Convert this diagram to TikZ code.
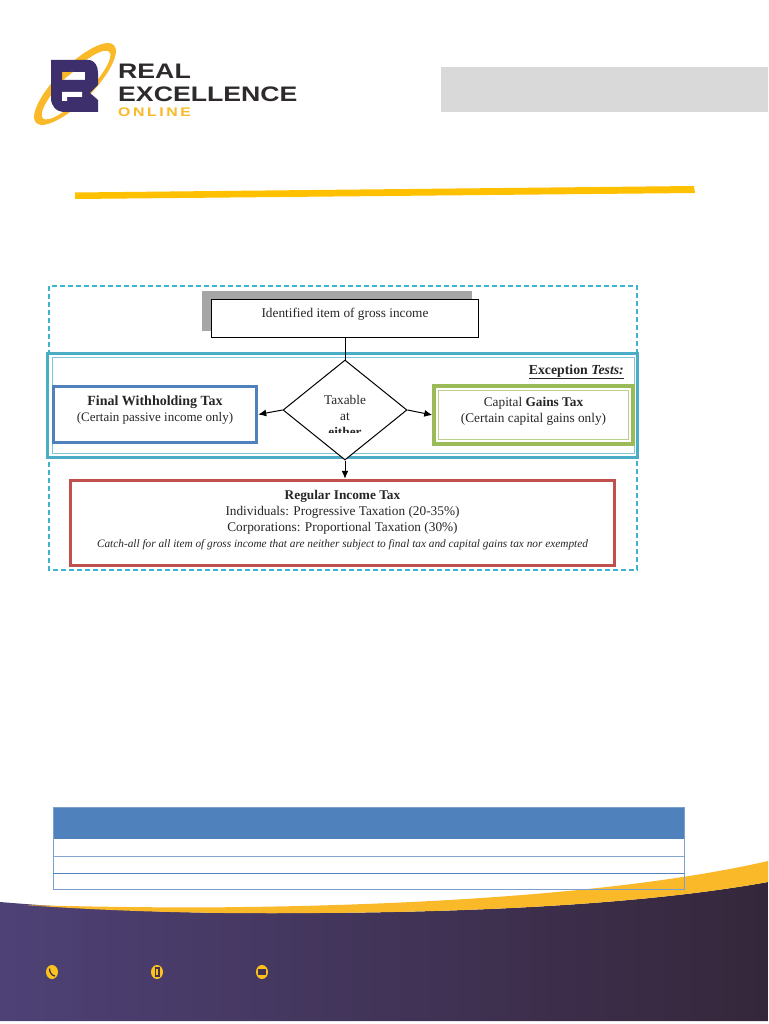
\documentclass[tikz,border=0pt]{standalone}
\usepackage{fontspec}
\setmainfont{Liberation Serif}
\newfontfamily\logofont[FakeStretch=1.27]{Liberation Sans}
\usetikzlibrary{shapes.geometric,arrows.meta}
\definecolor{ringyellow}{HTML}{F9B928}
\definecolor{ruleyellow}{HTML}{FFC000}
\definecolor{iconyellow}{HTML}{FBC31C}
\definecolor{linkblue}{HTML}{3FB4D2}
\definecolor{testblue}{HTML}{4BACC6}
\definecolor{finalblue}{HTML}{4F81BD}
\definecolor{gainsgreen}{HTML}{9BBB59}
\definecolor{regularred}{HTML}{C0504D}
\definecolor{logopurple}{HTML}{3D2F6B}
\definecolor{logodark}{HTML}{2E2A2C}
\definecolor{footleft}{HTML}{4E4176}
\definecolor{footmid}{HTML}{433351}
\definecolor{footright}{HTML}{35273A}
\tikzset{
	taxbox/.style={rectangle,inner sep=0,line width=3.5pt,fill=white},
	taxtext/.style={align=center,inner sep=0,font=\fontsize{13.3}{16}\selectfont,text=black!85},
	icondot/.style={ellipse,fill=iconyellow,minimum width=12,minimum height=14,inner sep=0},
	flowarrow/.style={-{Latex[length=8pt,width=7pt]},line width=1pt,black},
	logotext/.style={anchor=west,inner sep=0,logodark,font=\fontsize{21}{21}\logofont\bfseries}
}
\begin{document}
\begin{tikzpicture}[x=1pt,y=-1pt]
	\useasboundingbox (0,0) rectangle (768,1024);
	\fill[white] (0,0) rectangle (768,1024);

	\fill[ringyellow,even odd rule,rotate around={45:(75,84)}] (75,84) ellipse (55 and 18) (75,85.5) ellipse (47 and 12.5);
	\fill[logopurple,even odd rule] (51,60) -- (88,60) .. controls (95,60) and (98,66) .. (98,73) -- (98,85) -- (90,93) -- (98,100) -- (98,112) -- (65,112) .. controls (56,112) and (51,106) .. (51,98) -- cycle
		(62,72) -- (85,72) -- (85,80) -- (62,80) -- cycle;
	\fill[white] (62,92) -- (82,92) -- (82,97) -- (67,97) -- (67,101) -- (62,101) -- cycle;
	\fill[ringyellow] (62,80) -- (63,80) -- (73,72) -- (71,72) -- cycle;
	\node (real) at (118,71.5) [logotext] {REAL};
	\node (excellence) at (118,94) [logotext] {EXCELLENCE};
	\node (online) at (118,112.5) [anchor=west,inner sep=0,ringyellow,font=\fontsize{12.5}{13}\logofont\bfseries] {O\,\kern0.5pt N\,\kern0.5pt L\,\kern0.5pt I\,\kern0.5pt N\,\kern0.5pt E};

	\fill[black!15] (441,67) rectangle (768,112);
	\fill[ruleyellow] (75,192.5) -- (694,186) -- (695,193) -- (75,199) -- cycle;

	\draw[linkblue,line width=1.2pt,dash pattern=on 5pt off 3pt] (49,286) rectangle (637,570);
	\fill[black!35] (202,291) rectangle (472,331);

	\node (source) at (345,318) [rectangle,draw=black,fill=white,line width=1pt,minimum width=267,minimum height=38] {};
	\node (sourcetext) at (345,314) [taxtext] {Identified item of gross income};

	\draw[testblue,fill=white,line width=3pt] (47.5,353.5) rectangle (637.5,457);
	\draw[testblue!70,line width=1pt] (52,357.5) rectangle (634,453.5);
	\node (tests) at (624,372) [taxtext,anchor=east,font=\fontsize{13.8}{16}\selectfont] {\underline{\textbf{Exception \textit{Tests:}}}};

	\node (test) at (345,410) [diamond,aspect=1.24,draw=black,fill=white,line width=1pt,inner sep=0,minimum width=124,minimum height=100] {};
	\node (testtext) at (345,407.5) [taxtext] {Taxable\\at};
	\begin{scope}
		\clip (315,422) rectangle (375,432);
		\node (testcut) at (345,431.5) [taxtext] {\textbf{either}};
	\end{scope}

	\node (final) at (155,414.5) [taxbox,draw=finalblue,minimum width=203,minimum height=56] {};
	\node (finaltext) at (155,410.5) [taxtext] {\fontsize{14}{16}\selectfont\textbf{Final Withholding Tax}\\\fontsize{13}{16}\selectfont(Certain passive income only)};

	\node (gains) at (533.5,415) [taxbox,draw=gainsgreen,minimum width=199,minimum height=58] {};
	\node (gainsinner) at (533.5,415) [rectangle,draw=gainsgreen!70,line width=1pt,minimum width=190,minimum height=49] {};
	\node (gainstext) at (533.5,411) [taxtext] {Capital \textbf{Gains Tax}\\(Certain capital gains only)};

	\node (regular) at (342.5,523) [taxbox,draw=regularred,minimum width=544,minimum height=85] {};
	\node (regulartext) at (342.5,520) [taxtext] {\textbf{Regular Income Tax}\\Individuals: Progressive Taxation (20-35\%)\\Corporations: Proportional Taxation (30\%)\\\fontsize{11.3}{16}\selectfont\textit{Catch-all for all item of gross income that are neither subject to final tax and capital gains tax nor exempted}};

	\draw[line width=1pt] (source.south) -- (test.north);
	\draw[flowarrow] (test.west) -- (final.east);
	\draw[flowarrow] (test.east) -- (gains.west);
	\draw[flowarrow] (test.south) -- (test.south |- regular.north);

	\shade[left color=footleft,middle color=footmid,right color=footright] (0,902) .. controls (120,912) and (220,914) .. (318,913) .. controls (470,912) and (640,905) .. (768,882) -- (768,1021) -- (0,1021) -- cycle;
	\fill[ringyellow] (25,905) .. controls (100,907) and (180,908) .. (245,907) .. controls (400,905) and (620,895) .. (768,861) -- (768,882) .. controls (640,905) and (470,912) .. (318,913) .. controls (220,914) and (120,912) .. (25,905) -- cycle;

	\fill[finalblue] (53,807) rectangle (684,839);
	\draw[finalblue!75,line width=1pt] (53,807) rectangle (684,889.5);
	\draw[finalblue!70,line width=1.3pt] (53,856.5) -- (684,856.5);
	\draw[finalblue,line width=1pt] (53,873) -- (684,873);

	\node (phone) at (52,972) [icondot] {};
	\node (mobile) at (157,972) [icondot] {};
	\node (mail) at (262,972) [icondot] {};
	\draw[footmid,line width=1.3pt] (49.5,968.5) .. controls (49.5,972) and (51.5,975.5) .. (55,976);
	\fill[footmid] (154.5,967) rectangle (159.5,977);
	\fill[iconyellow] (155.8,968.5) rectangle (158.2,975);
	\fill[footmid] (258,969) rectangle (266,975);
\end{tikzpicture}
\end{document}
